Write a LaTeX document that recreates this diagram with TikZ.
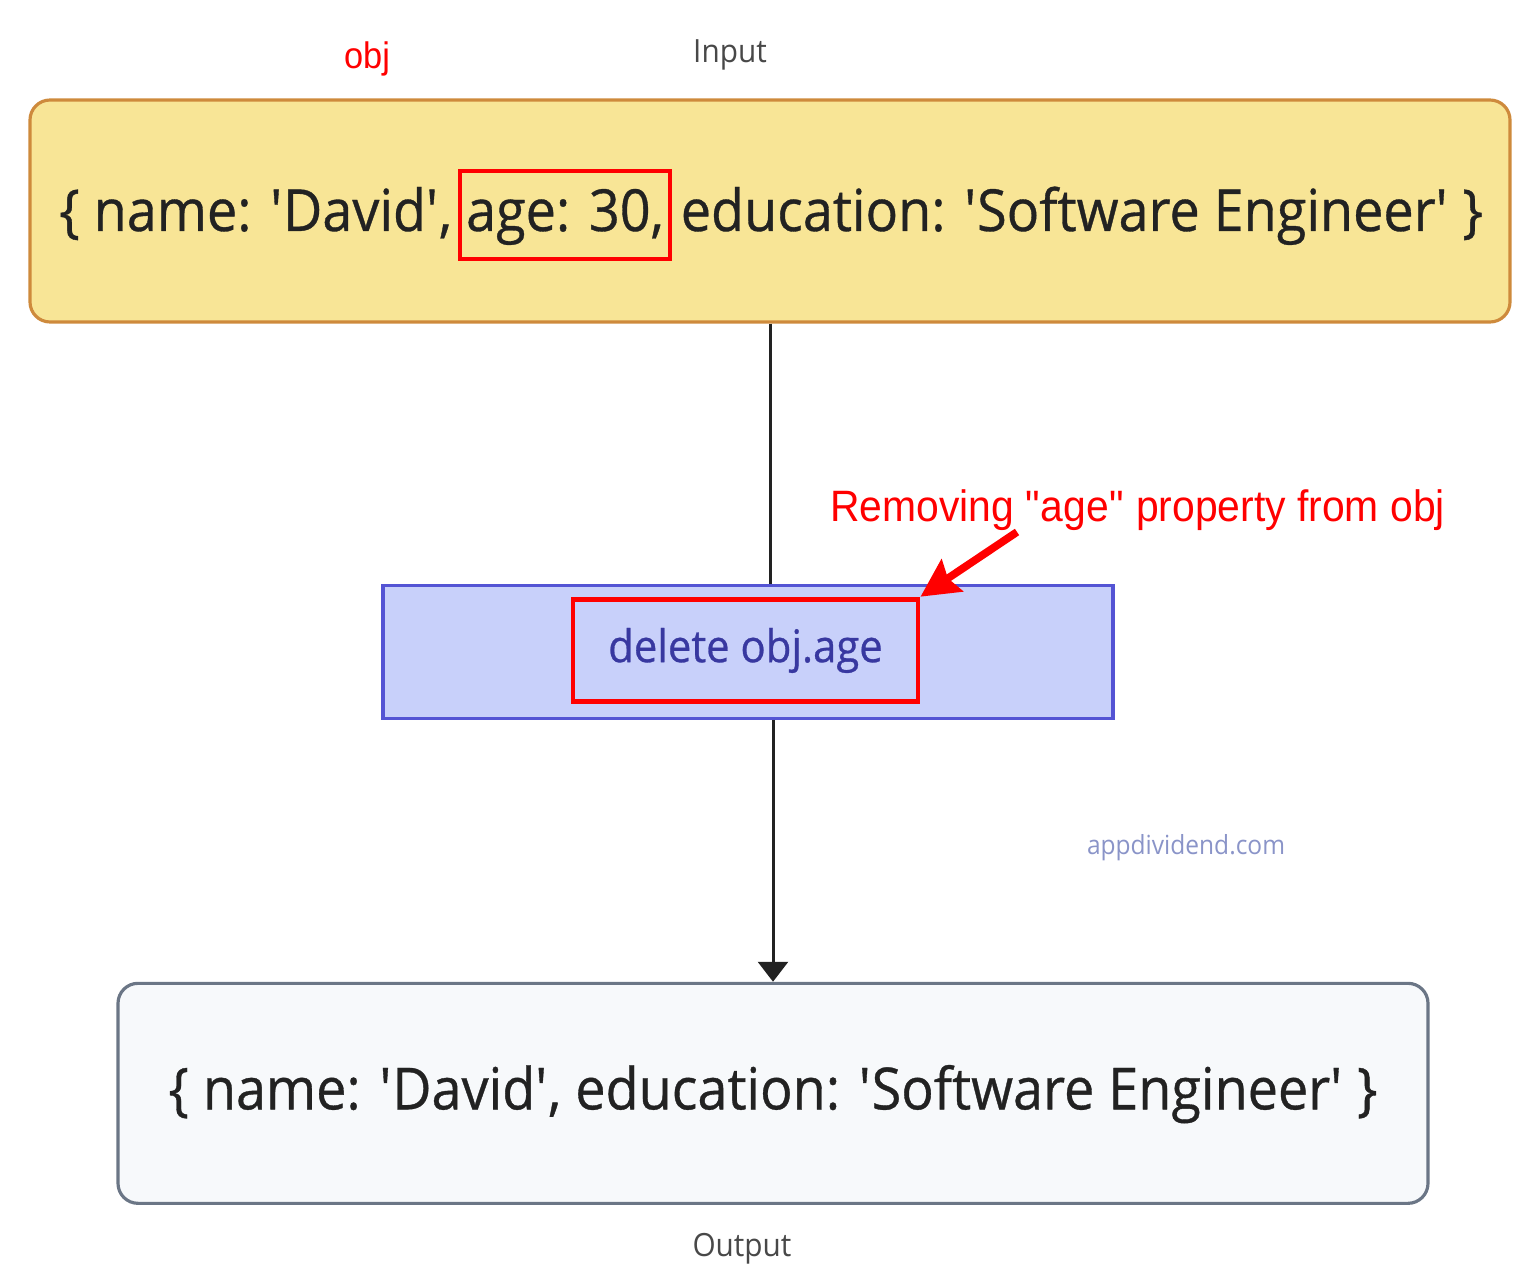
\documentclass[tikz,border=0pt]{standalone}
\usepackage{fontspec}
\usepackage{xcolor}
\setmainfont{Open Sans}[FakeStretch=0.93]
\newfontfamily\boxfont{Open Sans}[FakeStretch=0.93, FakeBold=0.6]
\newfontfamily\notefont{Liberation Sans}[FakeStretch=0.93]
\usetikzlibrary{positioning, arrows.meta}

\definecolor{objfill}{RGB}{248,229,150}
\definecolor{objdraw}{RGB}{206,138,60}
\definecolor{opfill}{RGB}{200,208,250}
\definecolor{opdraw}{RGB}{84,84,212}
\definecolor{optext}{RGB}{56,56,160}
\definecolor{resfill}{RGB}{247,249,251}
\definecolor{resdraw}{RGB}{107,118,134}
\definecolor{capgray}{RGB}{72,72,72}
\definecolor{sitecol}{RGB}{138,148,200}
\definecolor{linecol}{RGB}{34,34,34}

\begin{document}
\begin{tikzpicture}[>={Triangle[length=0.2cm,width=0.3cm]},node distance=2.6cm]
			\tikzstyle{card}=[draw, rounded corners=0.2cm, line width=0.9pt]
			\tikzstyle{hilite}=[draw=red, line width=1.2pt, inner sep=0pt]
			\tikzstyle{objtext}=[inner sep=0pt, text height=0.45cm, text depth=0.13cm, font=\boxfont\fontsize{16.5}{20}\selectfont, text=linecol]
			\tikzstyle{caption}=[font=\fontsize{9.1}{11}\selectfont, text=capgray]
			
			\useasboundingbox (0,0) rectangle (15.36,-12.82);
			
			\node[card, fill=objfill, draw=objdraw, minimum width=14.8cm, minimum height=2.22cm] (obj) at (7.70,-2.11) {};
			\node[hilite, objtext, minimum width=2.1cm, minimum height=0.88cm] (age) at (5.65,-2.15) {age: 30,};
			\node[objtext] (name) [left=0.05cm of age] {\{ name: \textquotesingle David\textquotesingle,};
			\node[objtext] (edu) [right=0.08cm of age] {education: \textquotesingle Software Engineer\textquotesingle\ \}};
			
			\node[fill=opfill, draw=opdraw, line width=0.9pt, minimum width=7.3cm, minimum height=1.33cm] (op) [below=2.6cm of obj, xshift=-0.22cm] {};
			\node[hilite, line width=1.4pt, minimum width=3.45cm, minimum height=1.02cm, text height=0.34cm, text depth=0.1cm, text=optext, font=\boxfont\fontsize{12.8}{15}\selectfont] (del) at ([xshift=-0.025cm, yshift=0.015cm]op.center) {delete obj.age};
			
			\node[card, fill=resfill, draw=resdraw, minimum width=13.1cm, minimum height=2.2cm, text height=0.45cm, text depth=0.13cm, text=linecol, font=\boxfont\fontsize{16.5}{20}\selectfont] (res) [below=2.62cm of op, xshift=0.25cm] {\{ name: \textquotesingle David\textquotesingle, education: \textquotesingle Software Engineer\textquotesingle\ \}};
			
			\node[text=red, font=\notefont\fontsize{10.5}{12}\selectfont] (objname) at (3.67,-0.59) {obj};
			\node[caption] (in) at (7.30,-0.55) {Input};
			\node[caption] (out) at (7.42,-12.49) {Output};
			\node[text=sitecol, font=\fontsize{7.5}{9}\selectfont] (site) at (11.86,-8.48) {appdividend.com};
			\node[text=red, font=\notefont\fontsize{12.5}{15}\selectfont] (note) at (11.375,-5.10) {Removing \textquotedbl age\textquotedbl\ property from obj};
			\coordinate (tail) at (10.17,-5.32);
			
			\draw[line width=0.85pt, draw=linecol] (obj.south) -- (obj.south |- op.north);
			\draw[->, line width=0.85pt, draw=linecol] (res.north |- op.south) -- (res.north);
			\draw[red, line width=2.2pt, -{Stealth[length=0.38cm,width=0.38cm,inset=0.05cm]}] (tail) -- (del.north east);
		\end{tikzpicture}
\end{document}
